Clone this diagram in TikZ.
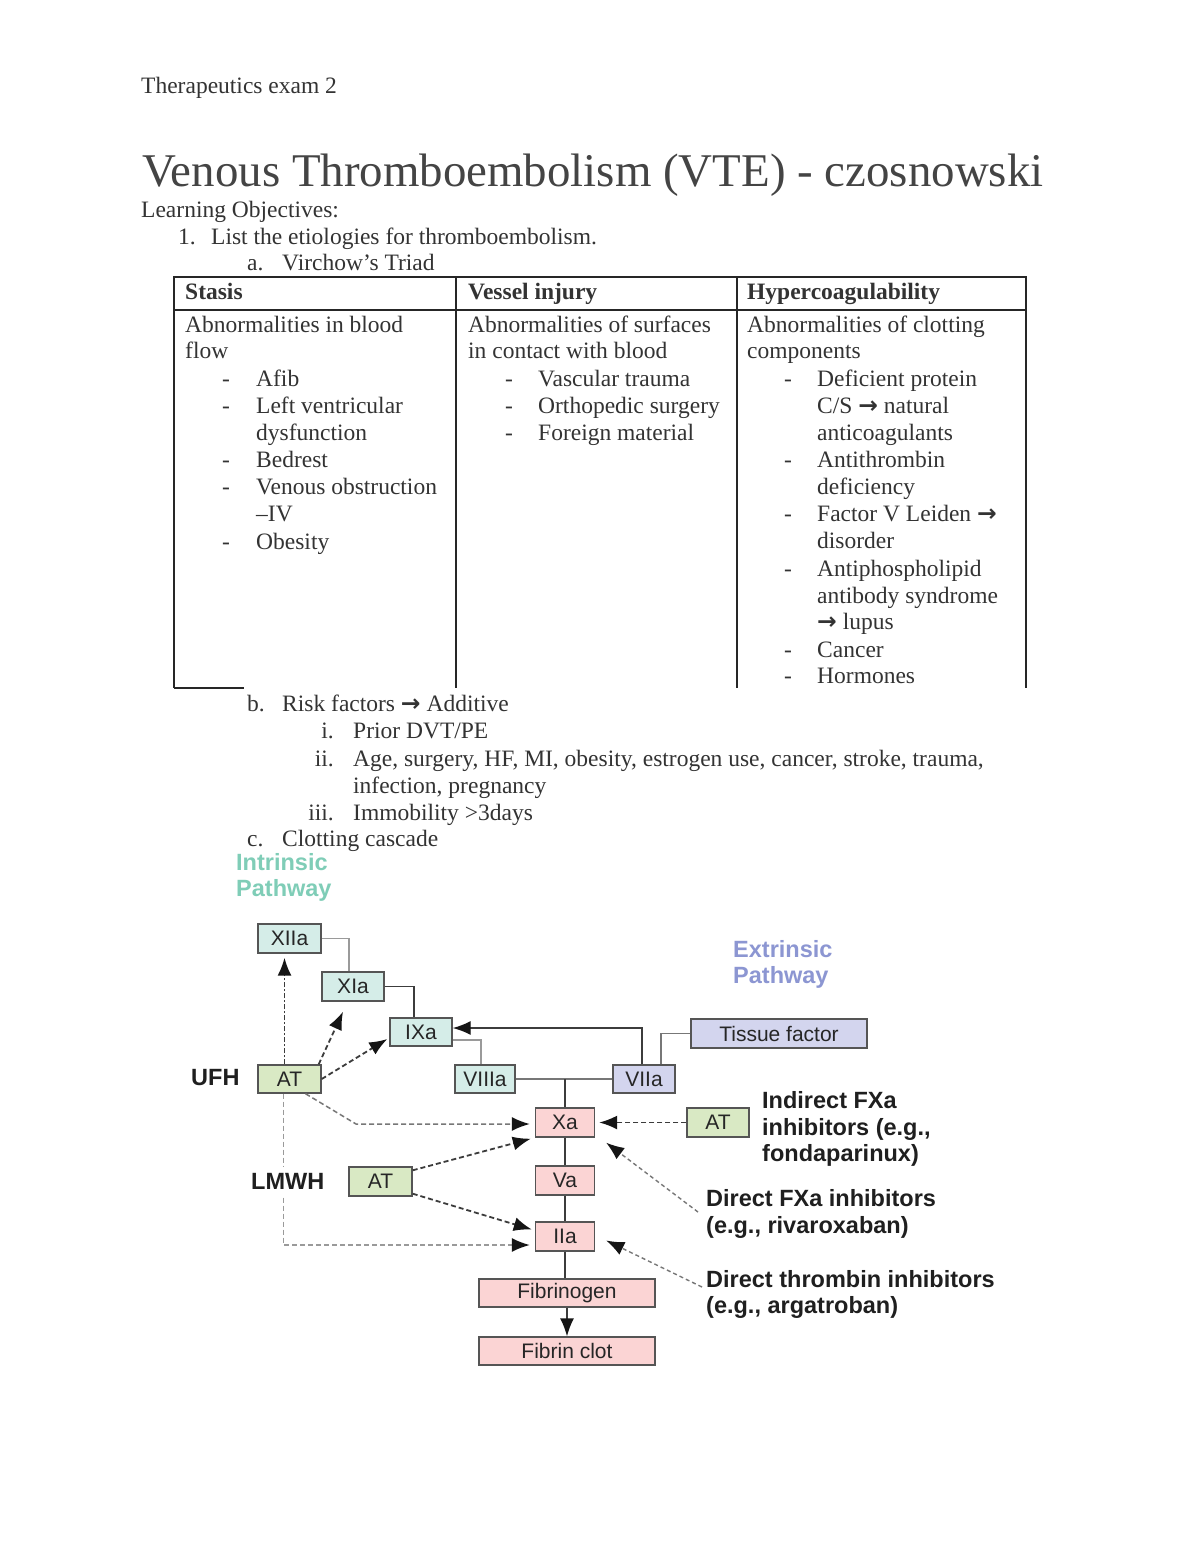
\documentclass[tikz,border=0pt]{standalone}
\usepackage{fontspec}
\setmainfont{Liberation Serif}
\newfontfamily\dsans{Liberation Sans}
\newfontfamily\arrfont{DejaVu Sans}
\usetikzlibrary{arrows.meta,calc}
\definecolor{txt}{HTML}{333333}
\definecolor{titlec}{HTML}{444444}
\definecolor{intrfill}{HTML}{D5EDE8}
\definecolor{extrfill}{HTML}{D3D5EE}
\definecolor{atfill}{HTML}{D9E9C4}
\definecolor{comfill}{HTML}{FBD4D4}
\definecolor{boxdraw}{HTML}{555555}
\definecolor{intrlab}{HTML}{7FCDB7}
\definecolor{extrlab}{HTML}{8C96D2}
\definecolor{lgray}{HTML}{9A9A9A}
\definecolor{mgray}{HTML}{777777}
\definecolor{dgray}{HTML}{3C3C3C}
\definecolor{tipc}{HTML}{151515}
\newcommand\arr{{\arrfont\bfseries →}}
\begin{document}
\begin{tikzpicture}[x=1pt,y=-1pt,
  bodytxt/.style={anchor=base west, inner sep=0pt, font=\fontsize{23.5}{27}\selectfont, text=txt},
  numtxt/.style={anchor=base east, inner sep=0pt, font=\fontsize{23.5}{27}\selectfont, text=txt},
  headtxt/.style={bodytxt, font=\fontsize{23.5}{27}\selectfont\bfseries},
  difftxt/.style={anchor=base west, inner sep=0pt, font=\dsans\bfseries\fontsize{23.5}{27}\selectfont, text=black!88},
  fbox/.style={draw=boxdraw, line width=1.4pt, minimum height=29pt, inner sep=0pt, font=\dsans\fontsize{21}{24}\selectfont, text=black!85},
  intr/.style={fbox, fill=intrfill},
  extr/.style={fbox, fill=extrfill},
  atbox/.style={fbox, fill=atfill},
  com/.style={fbox, fill=comfill},
  tipA/.style={-{Latex[length=18pt,width=14pt,color=tipc]}},
  dasharr/.style={dash pattern=on 5pt off 3pt, line width=1.8pt, tipA},
  conn/.style={line width=1.4pt}
]
\useasboundingbox[fill=white] (0,0) rectangle (1200,1553);

% ---------- header text ----------
\node[bodytxt] (hdr) at (141,93) {Therapeutics exam 2};
\node[anchor=base west, inner sep=0pt, font=\fontsize{46.9}{50}\selectfont, text=titlec] (title) at (142,186) {Venous Thromboembolism (VTE) - czosnowski};
\node[bodytxt] (lo) at (141,217) {Learning Objectives:};
\node[bodytxt] (n1) at (178,244) {1.};
\node[bodytxt] (n1t) at (211,244) {List the etiologies for thromboembolism.};
\node[bodytxt] (na) at (247,270) {a.};
\node[bodytxt] (nat) at (282,270) {Virchow’s Triad};

% ---------- table ----------
\draw[line width=2.6pt, black!85] (173,277) -- (1027,277);
\draw[line width=1.5pt, black!85] (174,310) -- (1026,310);
\draw[line width=1.2pt, black!85] (174,277) -- (174,688);
\draw[line width=1.2pt, black!85] (456,277) -- (456,688);
\draw[line width=2.2pt, black!85] (737,277) -- (737,688);
\draw[line width=1.2pt, black!85] (1026,277) -- (1026,688);
\draw[line width=1.5pt, black!85] (174,688) -- (244,688);

\node[headtxt] (h1) at (185,299) {Stasis};
\node[headtxt] (h2) at (468,299) {Vessel injury};
\node[headtxt] (h3) at (747,299) {Hypercoagulability};

% left column
\node[bodytxt] (l1) at (185,332) {Abnormalities in blood};
\node[bodytxt] (l2) at (185,358) {flow};
\node[bodytxt] (l3d) at (222,386) {-};
\node[bodytxt] (l3) at (256,386) {Afib};
\node[bodytxt] (l4d) at (222,413) {-};
\node[bodytxt] (l4) at (256,413) {Left ventricular};
\node[bodytxt] (l5) at (256,440) {dysfunction};
\node[bodytxt] (l6d) at (222,467) {-};
\node[bodytxt] (l6) at (256,467) {Bedrest};
\node[bodytxt] (l7d) at (222,494) {-};
\node[bodytxt] (l7) at (256,494) {Venous obstruction};
\node[bodytxt] (l8) at (256,521) {–IV};
\node[bodytxt] (l9d) at (222,549) {-};
\node[bodytxt] (l9) at (256,549) {Obesity};

% middle column
\node[bodytxt] (m1) at (468,332) {Abnormalities of surfaces};
\node[bodytxt] (m2) at (468,358) {in contact with blood};
\node[bodytxt] (m3d) at (505,386) {-};
\node[bodytxt] (m3) at (538,386) {Vascular trauma};
\node[bodytxt] (m4d) at (505,413) {-};
\node[bodytxt] (m4) at (538,413) {Orthopedic surgery};
\node[bodytxt] (m5d) at (505,440) {-};
\node[bodytxt] (m5) at (538,440) {Foreign material};

% right column
\node[bodytxt] (r1) at (747,332) {Abnormalities of clotting};
\node[bodytxt] (r2) at (747,358) {components};
\node[bodytxt] (r3d) at (784,386) {-};
\node[bodytxt] (r3) at (817,386) {Deficient protein};
\node[bodytxt] (r4) at (817,413) {C/S \arr{} natural};
\node[bodytxt] (r5) at (817,440) {anticoagulants};
\node[bodytxt] (r6d) at (784,467) {-};
\node[bodytxt] (r6) at (817,467) {Antithrombin};
\node[bodytxt] (r7) at (817,494) {deficiency};
\node[bodytxt] (r8d) at (784,521) {-};
\node[bodytxt] (r8) at (817,521) {Factor V Leiden \arr};
\node[bodytxt] (r9) at (817,548) {disorder};
\node[bodytxt] (r10d) at (784,576) {-};
\node[bodytxt] (r10) at (817,576) {Antiphospholipid};
\node[bodytxt] (r11) at (817,603) {antibody syndrome};
\node[bodytxt] (r12) at (817,629) {\arr{} lupus};
\node[bodytxt] (r13d) at (784,657) {-};
\node[bodytxt] (r13) at (817,657) {Cancer};
\node[bodytxt] (r14d) at (784,683) {-};
\node[bodytxt] (r14) at (817,683) {Hormones};

% ---------- below table ----------
\node[bodytxt] (nb) at (247,711) {b.};
\node[bodytxt] (nbt) at (282,711) {Risk factors \arr{} Additive};
\node[numtxt] (ni) at (334,738) {i.};
\node[bodytxt] (nit) at (353,738) {Prior DVT/PE};
\node[numtxt] (nii) at (334,766) {ii.};
\node[bodytxt] (niit) at (353,766) {Age, surgery, HF, MI, obesity, estrogen use, cancer, stroke, trauma,};
\node[bodytxt] (niit2) at (353,793) {infection, pregnancy};
\node[numtxt] (niii) at (334,820) {iii.};
\node[bodytxt] (niiit) at (353,820) {Immobility >3days};
\node[bodytxt] (nc) at (247,846) {c.};
\node[bodytxt] (nct) at (282,846) {Clotting cascade};

% ---------- clotting cascade ----------
\node[difftxt, text=intrlab] (intr1) at (236,870) {Intrinsic};
\node[difftxt, text=intrlab] (intr2) at (236,896) {Pathway};
\node[difftxt, text=extrlab] (extr1) at (733,957) {Extrinsic};
\node[difftxt, text=extrlab] (extr2) at (733,983) {Pathway};

\node[intr, minimum width=63pt] (XIIa) at (289.5,938.5) {XIIa};
\node[intr, minimum width=62pt] (XIa) at (353,986.5) {XIa};
\node[intr, minimum width=62pt, minimum height=28pt] (IXa) at (421,1032) {IXa};
\node[intr, minimum width=60pt, minimum height=28pt] (VIIIa) at (485,1079) {VIIIa};
\node[extr, minimum width=62pt, minimum height=28pt] (VIIa) at (644,1079) {VIIa};
\node[extr, minimum width=176pt] (TF) at (779,1033.5) {Tissue factor};
\node[atbox, minimum width=63pt, minimum height=28pt] (ATu) at (289.5,1079) {AT};
\node[com, minimum width=59pt] (Xa) at (565,1122.5) {Xa};
\node[atbox, minimum width=62pt] (ATr) at (718,1122.5) {AT};
\node[com, minimum width=59pt] (Va) at (565,1180.5) {Va};
\node[atbox, minimum width=63pt] (ATl) at (380.5,1181.5) {AT};
\node[com, minimum width=59pt] (IIa) at (565,1236.5) {IIa};
\node[com, minimum width=176pt, minimum height=28pt] (Fib) at (567,1293) {Fibrinogen};
\node[com, minimum width=176pt, minimum height=28pt] (Clot) at (567,1351) {Fibrin clot};

\node[difftxt] (UFH) at (191,1085) {UFH};
\node[difftxt] (ind1) at (762,1108) {Indirect FXa};
\node[difftxt] (ind2) at (762,1135) {inhibitors (e.g.,};
\node[difftxt] (ind3) at (762,1161) {fondaparinux)};
\node[difftxt] (dfx1) at (706,1206) {Direct FXa inhibitors};
\node[difftxt] (dfx2) at (706,1233) {(e.g., rivaroxaban)};
\node[difftxt] (dti1) at (706,1287) {Direct thrombin inhibitors};
\node[difftxt] (dti2) at (706,1313) {(e.g., argatroban)};

% solid connectors
\draw[conn, lgray] (XIIa.east) -| ([xshift=-4pt]XIa.north);
\draw[conn, dgray] (XIa.east) -| ([xshift=-7pt]IXa.north);
\draw[conn, lgray] ([yshift=-8pt]IXa.east) -| ([xshift=-4pt]VIIIa.north);
\draw[conn, mgray] (VIIIa.east) -- (VIIa.west);
\coordinate (jx) at (Xa.north |- VIIIa.east);
\draw[conn, dgray] (jx) -- (Xa.north);
\draw[conn, dgray, tipA] ([xshift=-2pt]VIIa.north) |- ([yshift=4pt]IXa.east);
\draw[conn, mgray] (TF.west) -| ([xshift=17pt]VIIa.north);
\draw[conn, dgray] (Xa.south) -- (Va.north);
\draw[conn, dgray] (Va.south) -- (IIa.north);
\draw[conn, dgray] (IIa.south) -- (IIa.south |- Fib.north);
\draw[conn, dgray, tipA] (Fib.south) -- (Clot.north);

% dashed inhibitor arrows
\draw[dasharr, dgray, dash pattern=on 5pt off 2pt on 2pt off 2pt] ([xshift=-5pt]ATu.north) -- ([xshift=-5pt,yshift=-4pt]XIIa.south);
\draw[dasharr, dgray] ([xshift=-3pt]ATu.north east) -- ($(XIa.south)+(-10,10)$);
\draw[dasharr, dgray] (ATu.east) -- ($(IXa.west)+(-2,7)$);
\coordinate (bend1) at (356,1124);
\draw[dasharr, mgray, line width=1.5pt] ($(ATu.south)+(16,0)$) -- (bend1) -- ($(Xa.west)+(-5,1.5)$);
\coordinate (bend2) at ($(ATu.south)+(-6,0)$);
\coordinate (bend3) at (bend2 |- 0,1245);
\draw[dasharr, lgray, line width=1.5pt] (bend2) -- (bend3) -- ($(IIa.west)+(-5,8.5)$);
\node[difftxt, fill=white, inner ysep=6pt, inner xsep=0pt] (LMWH) at (251,1189) {LMWH};
\draw[dasharr, dgray] ([yshift=-4pt]ATl.north east) -- ($(Xa.south west)+(-4,1)$);
\draw[dasharr, dgray] ([yshift=3pt]ATl.south east) -- ($(IIa.west)+(-3,-7)$);
\draw[dasharr, dgray] (ATr.west) -- ($(Xa.east)+(4,0)$);
\coordinate (dfxs) at (698,1212);
\draw[dasharr, mgray, line width=1.4pt, dash pattern=on 4pt off 3pt] (dfxs) -- ($(Xa.south east)+(11,5)$);
\coordinate (dtis) at (702,1287);
\draw[dasharr, mgray, line width=1.4pt, dash pattern=on 4pt off 3pt] (dtis) -- ($(IIa.east)+(11,4)$);
\end{tikzpicture}
\end{document}
